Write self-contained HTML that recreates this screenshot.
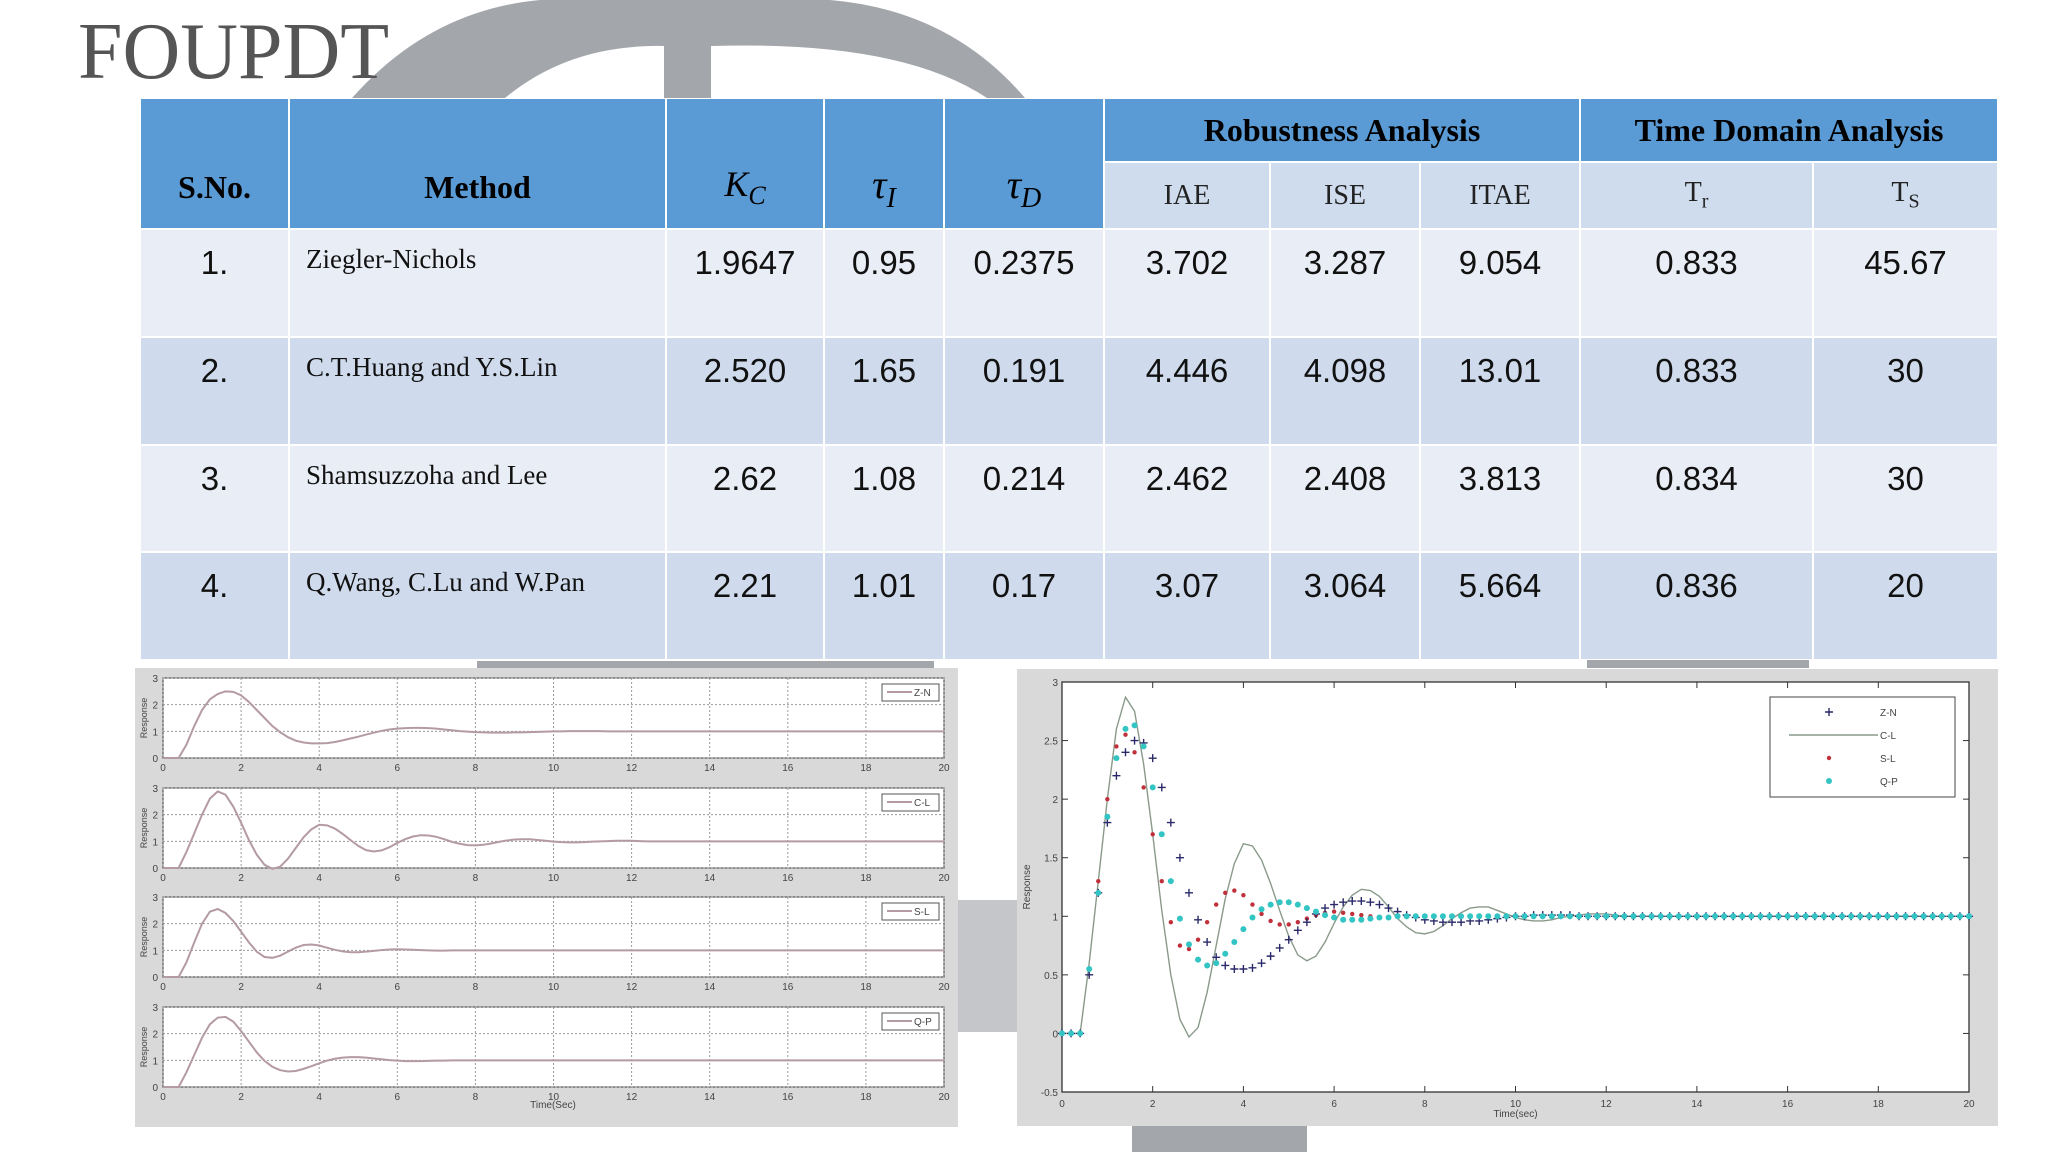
<!DOCTYPE html>
<html><head><meta charset="utf-8">
<style>
body{margin:0;width:2048px;height:1152px;overflow:hidden;background:#fff;position:relative;font-family:"Liberation Serif",serif;}
.c{position:absolute;box-sizing:border-box;display:flex;justify-content:center;}
.hb{background:#5b9bd5;color:#000;font-weight:bold;font-size:32px;align-items:center;}
.hs{background:#cfdcee;color:#222;font-size:28px;align-items:center;}
.num{font-family:"Liberation Sans",sans-serif;font-size:33px;color:#111;align-items:flex-start;padding-top:14px;}
.meth{font-size:27px;justify-content:flex-start;padding-left:16px;padding-top:14px;align-items:flex-start;color:#111;}
.l{background:#e9edf5;}.d{background:#cfdbec;}
.low{padding-top:48px;}
</style></head><body>
<svg style="position:absolute;left:0;top:0" width="2048" height="1152">
<path d="M352,98 Q430,10 540,0 L830,0 Q950,10 1025,98 L987,98 Q900,40 711,46 L711,98 L664,98 L664,46 Q570,44 505,98 Z" fill="#a3a6ab"/>
<rect x="477" y="661" width="457" height="9" fill="#a3a6ab"/>
<rect x="1587" y="660" width="222" height="8" fill="#a3a6ab"/>
<rect x="957" y="900" width="60" height="132" fill="#c4c6c9"/>
<rect x="1132" y="1125" width="175" height="27" fill="#a3a6ab"/>
<text x="78" y="78" font-family="Liberation Serif, serif" font-size="80" fill="#555">FOUPDT</text>
</svg>

<div id="tbl"></div>

<svg id="left" style="position:absolute;left:0;top:0" width="2048" height="1152"></svg>

<script>
// ===== data =====
const timeSec = [0,0.2,0.4,0.6,0.8,1.0,1.2,1.4,1.6,1.8,2.0,2.2,2.4,2.6,2.8,3.0,3.2,3.4,3.6,3.8,4.0,4.2,4.4,4.6,4.8,5.0,5.2,5.4,5.6,5.8,6.0,6.2,6.4,6.6,6.8,7.0,7.2,7.4,7.6,7.8,8.0,8.2,8.4,8.6,8.8,9.0,9.2,9.4,9.6,9.8,10.0,10.2,10.4,10.6,10.8,11.0,11.2,11.4,11.6,11.8,12.0,12.2,12.4,12.6,12.8,13.0,13.2,13.4,13.6,13.8,14.0,14.2,14.4,14.6,14.8,15.0,15.2,15.4,15.6,15.8,16.0,16.2,16.4,16.6,16.8,17.0,17.2,17.4,17.6,17.8,18.0,18.2,18.4,18.6,18.8,19.0,19.2,19.4,19.6,19.8,20.0];
const zn = [0,0,0,0.5,1.2,1.8,2.2,2.4,2.5,2.48,2.35,2.1,1.8,1.5,1.2,0.97,0.78,0.65,0.58,0.55,0.55,0.56,0.6,0.66,0.73,0.8,0.88,0.95,1.02,1.07,1.1,1.12,1.13,1.13,1.12,1.1,1.07,1.04,1.01,0.99,0.97,0.96,0.95,0.95,0.95,0.96,0.96,0.97,0.98,0.99,1.0,1.0,1.01,1.01,1.01,1.01,1.01,1.0,1,1,1,1,1,1,1,1,1,1,1,1,1,1,1,1,1,1,1,1,1,1,1,1,1,1,1,1,1,1,1,1,1,1,1,1,1,1,1,1,1,1,1];
const cl = [0,0,0,0.6,1.3,2.0,2.6,2.87,2.75,2.3,1.7,1.05,0.5,0.12,-0.03,0.05,0.35,0.75,1.15,1.45,1.62,1.6,1.48,1.28,1.05,0.83,0.67,0.62,0.66,0.78,0.94,1.08,1.18,1.23,1.22,1.17,1.08,0.98,0.91,0.86,0.85,0.87,0.92,0.98,1.03,1.07,1.08,1.08,1.05,1.02,0.99,0.97,0.96,0.96,0.97,0.99,1.0,1.01,1.02,1.02,1.02,1.01,1.0,1,1,1,1,1,1,1,1,1,1,1,1,1,1,1,1,1,1,1,1,1,1,1,1,1,1,1,1,1,1,1,1,1,1,1,1,1,1];
const sl = [0,0,0,0.55,1.3,2.0,2.45,2.55,2.4,2.1,1.7,1.3,0.95,0.75,0.72,0.8,0.95,1.1,1.2,1.22,1.18,1.1,1.02,0.96,0.93,0.93,0.95,0.98,1.01,1.03,1.04,1.03,1.02,1.01,1.0,0.99,0.99,1,1,1,1,1,1,1,1,1,1,1,1,1,1,1,1,1,1,1,1,1,1,1,1,1,1,1,1,1,1,1,1,1,1,1,1,1,1,1,1,1,1,1,1,1,1,1,1,1,1,1,1,1,1,1,1,1,1,1,1,1,1,1,1];
const qp = [0,0,0,0.55,1.2,1.85,2.35,2.6,2.63,2.45,2.1,1.7,1.3,0.98,0.76,0.63,0.58,0.6,0.68,0.78,0.89,0.99,1.06,1.1,1.12,1.12,1.1,1.07,1.04,1.01,0.99,0.97,0.97,0.97,0.98,0.99,0.99,1.0,1,1,1,1,1,1,1,1,1,1,1,1,1,1,1,1,1,1,1,1,1,1,1,1,1,1,1,1,1,1,1,1,1,1,1,1,1,1,1,1,1,1,1,1,1,1,1,1,1,1,1,1,1,1,1,1,1,1,1,1,1,1,1];
const xTicks = [0,2,4,6,8,10,12,14,16,18,20];
const ySmallTicks = [0,1,2,3];
const yBigTicks = [-0.5,0,0.5,1,1.5,2,2.5,3];
const seriesNames = ["Z-N","C-L","S-L","Q-P"];
const seriesData = [zn,cl,sl,qp];

// ===== table =====
const colX=[140,289,666,824,944,1104,1270,1420,1580,1813,1998];
const rowY=[229,337,445,552,660];
const rows=[
 ["1.","Ziegler-Nichols","1.9647","0.95","0.2375","3.702","3.287","9.054","0.833","45.67"],
 ["2.","C.T.Huang and Y.S.Lin","2.520","1.65","0.191","4.446","4.098","13.01","0.833","30"],
 ["3.","Shamsuzzoha and Lee","2.62","1.08","0.214","2.462","2.408","3.813","0.834","30"],
 ["4.","Q.Wang, C.Lu and W.Pan","2.21","1.01","0.17","3.07","3.064","5.664","0.836","20"]];
const tbl=document.getElementById('tbl');
function cell(x0,y0,x1,y1,cls,html,name){
  const d=document.createElement('div');
  d.className='c '+cls;
  d.style.left=x0+'px';d.style.top=y0+'px';d.style.width=(x1-x0)+'px';d.style.height=(y1-y0)+'px';
  d.style.border='1.5px solid #fff';
  d.innerHTML=html;
  
  
  tbl.appendChild(d);
}
cell(140,98,289,229,'hb low','S.No.','header-sno');
cell(289,98,666,229,'hb low','Method','header-method');
cell(666,98,824,229,'hb low','<span style="font-weight:normal;font-style:italic;font-size:36px">K<sub style="font-size:26px">C</sub></span>','header-kc');
cell(824,98,944,229,'hb low','<span style="font-weight:normal;font-style:italic;font-size:40px">τ<sub style="font-size:28px">I</sub></span>','header-taui');
cell(944,98,1104,229,'hb low','<span style="font-weight:normal;font-style:italic;font-size:40px">τ<sub style="font-size:28px">D</sub></span>','header-taud');
cell(1104,98,1580,162,'hb','Robustness Analysis','header-robustness');
cell(1580,98,1998,162,'hb','Time Domain Analysis','header-time-domain');
cell(1104,162,1270,229,'hs','IAE','header-iae');
cell(1270,162,1420,229,'hs','ISE','header-ise');
cell(1420,162,1580,229,'hs','ITAE','header-itae');
cell(1580,162,1813,229,'hs','<span>T<sub style="font-size:20px">r</sub></span>','header-tr');
cell(1813,162,1998,229,'hs','<span>T<sub style="font-size:20px">S</sub></span>','header-ts');
rows.forEach((r,i)=>{
  const bg=i%2?'d':'l';
  for(let c=0;c<10;c++){
    cell(colX[c],rowY[i],colX[c+1],rowY[i+1],(c==1?'meth ':'num ')+bg,r[c],'row'+(i+1)+'-col'+(c+1));
  }
});

// ===== charts =====
const NS='http://www.w3.org/2000/svg';
const svg=document.getElementById('left');
function el(tag,attrs,parent){
  const e=document.createElementNS(NS,tag);
  for(const k in attrs) e.setAttribute(k,attrs[k]);
  (parent||svg).appendChild(e);return e;
}
const lp=el('rect',{x:135,y:668,width:823,height:459,fill:'#d9d9d9'});


const subTops=[678,788,897,1007], subH=80, lx0=163, lx1=944;
seriesData.forEach((data,si)=>{
  const top=subTops[si], bot=top+subH;
  const sx=t=>lx0+(t/20)*(lx1-lx0);
  const sy=v=>bot-(v/3)*subH;
  const g=el('g',{});
  
  
  el('rect',{x:lx0,y:top,width:lx1-lx0,height:subH,fill:'#fff',stroke:'#555','stroke-width':1.2},g);
  xTicks.forEach(t=>{
    el('line',{x1:sx(t),x2:sx(t),y1:top,y2:bot,stroke:'#999','stroke-width':1,'stroke-dasharray':'2,2'},g);
    const tx=el('text',{x:sx(t),y:bot+13,'font-size':10,'text-anchor':'middle',fill:'#444','font-family':'Liberation Sans, sans-serif'},g);
    tx.textContent=t;
  });
  ySmallTicks.forEach(v=>{
    el('line',{x1:lx0,x2:lx1,y1:sy(v),y2:sy(v),stroke:'#999','stroke-width':1,'stroke-dasharray':'2,2'},g);
    const tx=el('text',{x:lx0-5,y:sy(v)+4,'font-size':10,'text-anchor':'end',fill:'#444','font-family':'Liberation Sans, sans-serif'},g);
    tx.textContent=v;
  });
  const yl=el('text',{x:0,y:0,'font-size':9,'text-anchor':'middle',fill:'#444','font-family':'Liberation Sans, sans-serif',transform:`translate(147,${top+subH/2}) rotate(-90)`},g);
  yl.textContent='Response';
  const p=el('polyline',{points:data.map((v,i)=>sx(timeSec[i])+','+sy(v)).join(' '),fill:'none',stroke:'#b49aa4','stroke-width':2},g);
  
  
  const lg=el('g',{},g);
  
  
  el('rect',{x:882,y:top+6,width:57,height:17,fill:'#fff',stroke:'#555'},lg);
  el('line',{x1:887,x2:912,y1:top+14,y2:top+14,stroke:'#b49aa4','stroke-width':2},lg);
  const lt=el('text',{x:914,y:top+18,'font-size':10,fill:'#444','font-family':'Liberation Sans, sans-serif'},lg);
  lt.textContent=seriesNames[si];
});
const lxl=el('text',{x:553,y:1108,'font-size':10,'text-anchor':'middle',fill:'#444','font-family':'Liberation Sans, sans-serif'});
lxl.textContent='Time(Sec)';

const rp=el('rect',{x:1017,y:669,width:981,height:457,fill:'#d9d9d9'});


const rx0=1062, rx1=1969, ry0=682, ry1=1092;
const X=t=>rx0+(t/20)*(rx1-rx0);
const Y=v=>ry1-((v+0.5)/3.5)*(ry1-ry0);
const rg=el('g',{});


el('rect',{x:rx0,y:ry0,width:rx1-rx0,height:ry1-ry0,fill:'#fff',stroke:'#333','stroke-width':1.3},rg);
xTicks.forEach(t=>{
  el('line',{x1:X(t),x2:X(t),y1:ry1,y2:ry1-6,stroke:'#333'},rg);
  el('line',{x1:X(t),x2:X(t),y1:ry0,y2:ry0+6,stroke:'#333'},rg);
  const tx=el('text',{x:X(t),y:ry1+15,'font-size':10,'text-anchor':'middle',fill:'#444','font-family':'Liberation Sans, sans-serif'},rg);
  tx.textContent=t;
});
yBigTicks.forEach(v=>{
  el('line',{x1:rx0,x2:rx0+6,y1:Y(v),y2:Y(v),stroke:'#333'},rg);
  el('line',{x1:rx1,x2:rx1-6,y1:Y(v),y2:Y(v),stroke:'#333'},rg);
  const tx=el('text',{x:rx0-4,y:Y(v)+4,'font-size':10,'text-anchor':'end',fill:'#444','font-family':'Liberation Sans, sans-serif'},rg);
  tx.textContent=v;
});
const ryl=el('text',{x:0,y:0,'font-size':10,'text-anchor':'middle',fill:'#444','font-family':'Liberation Sans, sans-serif',transform:`translate(1030,${(ry0+ry1)/2}) rotate(-90)`},rg);
ryl.textContent='Response';
const rxl=el('text',{x:(rx0+rx1)/2,y:1117,'font-size':10,'text-anchor':'middle',fill:'#444','font-family':'Liberation Sans, sans-serif'},rg);
rxl.textContent='Time(sec)';
const clLine=el('polyline',{points:cl.map((v,i)=>X(timeSec[i])+','+Y(v)).join(' '),fill:'none',stroke:'#8a9a8a','stroke-width':1.4},rg);


sl.forEach((v,i)=>{
  const c=el('circle',{cx:X(timeSec[i]),cy:Y(v),r:2.2,fill:'#c0303a'},rg);
  
  
});
zn.forEach((v,i)=>{
  const x=X(timeSec[i]),y=Y(v);
  const p=el('path',{d:`M${x-4},${y}H${x+4}M${x},${y-4}V${y+4}`,stroke:'#2a2a6a','stroke-width':1.4},rg);
  
  
});
qp.forEach((v,i)=>{
  const c=el('circle',{cx:X(timeSec[i]),cy:Y(v),r:3,fill:'#33c4c4'},rg);
  
  
});
const leg=el('g',{},rg);


el('rect',{x:1770,y:697,width:185,height:100,fill:'#fff',stroke:'#444'},leg);
seriesNames.forEach((n,i)=>{
  const y=712+i*23;
  if(i==0) el('path',{d:`M1825,${y}h8M1829,${y-4}v8`,stroke:'#2a2a6a','stroke-width':1.4},leg);
  if(i==1) el('line',{x1:1789,x2:1878,y1:y,y2:y,stroke:'#8a9a8a','stroke-width':1.6},leg);
  if(i==2) el('circle',{cx:1829,cy:y,r:2.2,fill:'#c0303a'},leg);
  if(i==3) el('circle',{cx:1829,cy:y,r:3,fill:'#33c4c4'},leg);
  const t=el('text',{x:1880,y:y+4,'font-size':10,fill:'#444','font-family':'Liberation Sans, sans-serif'},leg);
  t.textContent=n;
});
</script>
</body></html>
